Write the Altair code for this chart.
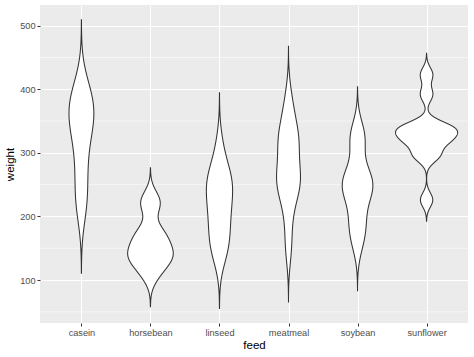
import altair as alt
import pandas as pd

feeds = ["casein", "horsebean", "linseed", "meatmeal", "soybean", "sunflower"]
casein = [368, 390, 379, 260, 404, 318, 352, 359, 216, 222, 283, 332]
horsebean = [179, 160, 136, 227, 217, 168, 108, 124, 143, 140]
linseed = [309, 229, 181, 141, 260, 203, 148, 169, 213, 257, 244, 271]
meatmeal = [325, 257, 303, 315, 380, 153, 263, 242, 206, 344, 258]
soybean = [243, 230, 248, 327, 329, 250, 193, 271, 316, 267, 199, 171, 158, 248]
sunflower = [423, 340, 392, 339, 341, 226, 320, 295, 334, 322, 297, 318]
# kernel bandwidths per group (estimated)
bandwidths = [35.28, 16.63, 28.60, 29.31, 25.06, 11.24]
y_ticks = [100, 200, 300, 400, 500]
y_minor = [50, 150, 250, 350, 450]

groups = [casein, horsebean, linseed, meatmeal, soybean, sunflower]
rows = []
for i, (f, vals, bw) in enumerate(zip(feeds, groups, bandwidths)):
    for v in vals:
        rows.append({"feed": f, "weight": v, "idx": i + 1, "bw": bw})
df = pd.DataFrame(rows)

label_expr = "[" + ",".join("'%s'" % f for f in feeds) + "][datum.value - 1]"

violin = alt.Chart(df).transform_calculate(
    z="datum.weight / datum.bw"
).transform_joinaggregate(
    zmin="min(z)", zmax="max(z)", groupby=["feed"]
).transform_density(
    "z", groupby=["feed", "idx", "bw", "zmin", "zmax"],
    extent=[1, 42], steps=2050, bandwidth=1, as_=["zv", "dz"]
).transform_filter(
    "datum.zv >= datum.zmin - 3 && datum.zv <= datum.zmax + 3"
).transform_calculate(
    value="datum.zv * datum.bw", dens="datum.dz / datum.bw"
).transform_joinaggregate(
    maxd="max(dens)"
).transform_calculate(
    left="datum.idx - 0.45 * datum.dens / datum.maxd",
    right="datum.idx + 0.45 * datum.dens / datum.maxd",
).mark_area(
    orient="horizontal", fill="white", stroke="#333333", strokeWidth=1.05
).encode(
    y=alt.Y("value:Q", title="weight",
            scale=alt.Scale(domain=[32.47, 532.57], nice=False, zero=False),
            axis=alt.Axis(values=y_ticks, titleAngle=-90, titleX=-30, titleY=159,
                          titleBaseline="middle", titleAlign="center")),
    x=alt.X("left:Q", title="feed",
            scale=alt.Scale(domain=[0.4, 6.6], nice=False, zero=False),
            axis=alt.Axis(values=[1, 2, 3, 4, 5, 6], labelExpr=label_expr,
                          titleY=22, titleBaseline="middle")),
    x2="right:Q",
    detail="feed:N",
)

minor = alt.Chart(pd.DataFrame({"v": y_minor})).mark_rule(
    color="white", strokeWidth=0.55
).encode(y="v:Q")

chart = alt.layer(minor, violin).properties(
    width=428, height=318,
    autosize=alt.AutoSizeParams(type="none"),
    padding={"left": 40, "top": 5, "right": 6, "bottom": 34},
).configure_view(
    fill="#EBEBEB", stroke=None
).configure_axis(
    domain=False, grid=True, gridColor="white", gridWidth=1.07,
    tickColor="#333333", tickSize=3, tickWidth=1.05,
    labelColor="#4D4D4D", labelFont="Liberation Sans", labelFontSize=9.2,
    labelPadding=2,
    titleFont="Liberation Sans", titleFontSize=11.5, titleFontWeight="normal",
    titleColor="black",
)

chart.save("out.html", embed_options={"renderer": "svg", "actions": False})
